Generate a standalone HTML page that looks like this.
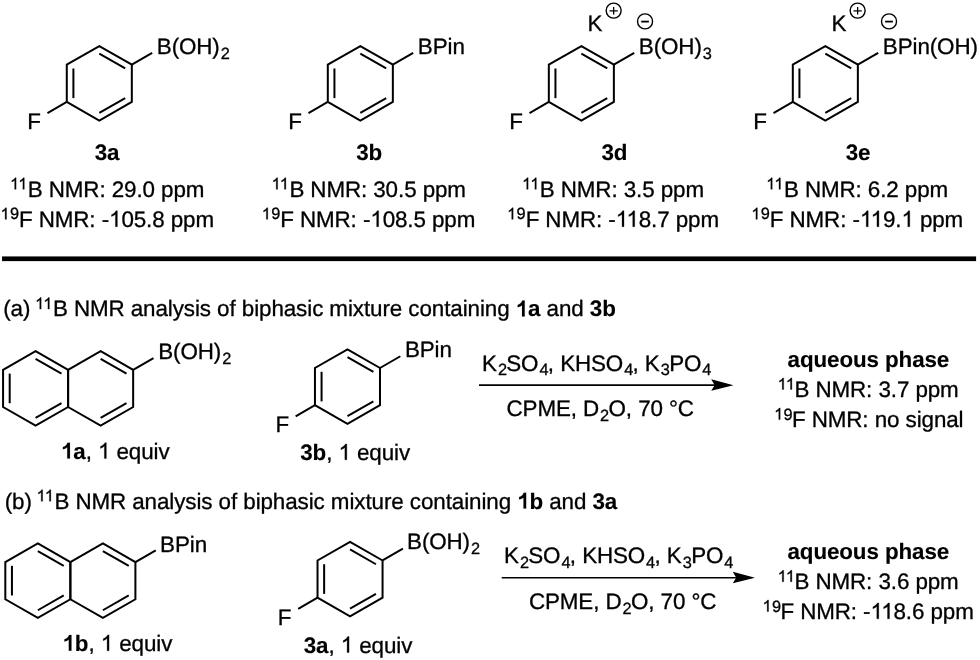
<!DOCTYPE html><html><head><meta charset="utf-8"><style>html,body{margin:0;padding:0;background:#fff;width:980px;height:660px;overflow:hidden}svg{display:block}</style></head><body><div style="will-change:transform"><svg width="980" height="660" viewBox="0 0 980 660">
<style>.b{fill:none;stroke:#000;stroke-width:2.0;stroke-linejoin:miter;stroke-linecap:butt}text{font-family:"Liberation Sans",sans-serif;text-rendering:geometricPrecision;font-kerning:none;white-space:pre;fill:#000;stroke:#000}.tr{stroke-width:0.3px}.tb{font-weight:bold;stroke-width:0.12px}tspan.one{fill-opacity:0;stroke-opacity:0}.gr,.gb{fill:#000;stroke:#000;vector-effect:non-scaling-stroke}.gr{stroke-width:0.3px}.gb{stroke-width:0.12px}</style>
<rect width="980" height="660" fill="#fff"/>
<path d="M99.30 46.10 L131.82 64.70 L131.82 101.90 L99.30 120.50 L66.78 101.90 L66.78 64.70 Z" class="b"/>
<path d="M99.30 53.72 L125.20 68.48" class="b"/>
<path d="M125.20 98.12 L99.30 112.88" class="b"/>
<path d="M73.40 98.12 L73.40 68.48" class="b"/>
<path d="M131.82 64.70 L152.17 52.95" class="b"/>
<text class="tr"><tspan x="156.80 171.64 178.99 196.26 212.33" y="53.86" style="font-size:22.400px">B(OH)</tspan><tspan x="220.74" y="58.76" style="font-size:16.346px">2</tspan></text>
<path d="M66.78 101.90 L47.47 113.05" class="b"/>
<text class="tr"><tspan x="27.20" y="129.10" style="font-size:22.400px">F</tspan></text>
<text class="tb"><tspan x="94.72 107.07" y="160.30" style="font-size:22.400px">3a</tspan></text>
<text class="tr"><tspan x="10.02 18.22" y="189.30" style="font-size:16.346px" class="one">11</tspan></text>
<path transform="matrix(0.00791 0 0 -0.00791 10.06 189.30)" d="M763 0L583 0L583 1147C540 1106 483 1064 413 1023C343 982 280 951 223 930L223 1104C321 1150 407 1206 481 1272C555 1338 607 1403 637 1466L763 1466Z" class="gr"/>
<path transform="matrix(0.00791 0 0 -0.00791 18.26 189.30)" d="M763 0L583 0L583 1147C540 1106 483 1064 413 1023C343 982 280 951 223 930L223 1104C321 1150 407 1206 481 1272C555 1338 607 1403 637 1466L763 1466Z" class="gr"/>
<text class="tr"><tspan x="27.84 42.69 48.81 64.83 83.33 99.41 105.58 111.72 124.07 136.44 142.58 154.95 161.09 173.44 185.76" y="196.60" style="font-size:22.400px">B NMR: 29.0 ppm</tspan></text>
<text class="tr"><tspan x="0.45" y="219.37" style="font-size:16.346px" class="one">1</tspan><tspan x="9.90" y="219.37" style="font-size:16.346px">9</tspan></text>
<path transform="matrix(0.00791 0 0 -0.00791 0.49 219.37)" d="M763 0L583 0L583 1147C540 1106 483 1064 413 1023C343 982 280 951 223 930L223 1104C321 1150 407 1206 481 1272C555 1338 607 1403 637 1466L763 1466Z" class="gr"/>
<text class="tr"><tspan x="19.03 32.62 38.75 54.77 73.27 89.35 95.52 101.68" y="226.67" style="font-size:22.400px">F NMR: -</tspan><tspan x="109.05" y="226.67" style="font-size:22.400px" class="one">1</tspan><tspan x="121.40 133.74 146.12 152.26 164.63 170.77 183.12 195.44" y="226.67" style="font-size:22.400px">05.8 ppm</tspan></text>
<path transform="matrix(0.01084 0 0 -0.01084 109.10 226.67)" d="M763 0L583 0L583 1147C540 1106 483 1064 413 1023C343 982 280 951 223 930L223 1104C321 1150 407 1206 481 1272C555 1338 607 1403 637 1466L763 1466Z" class="gr"/>
<path d="M360.33 46.10 L392.85 64.70 L392.85 101.90 L360.33 120.50 L327.81 101.90 L327.81 64.70 Z" class="b"/>
<path d="M360.33 53.72 L386.23 68.48" class="b"/>
<path d="M386.23 98.12 L360.33 112.88" class="b"/>
<path d="M334.43 98.12 L334.43 68.48" class="b"/>
<path d="M392.85 64.70 L413.20 52.95" class="b"/>
<text class="tr"><tspan x="417.83 432.64 447.49 452.39" y="53.86" style="font-size:22.400px">BPin</tspan></text>
<path d="M327.81 101.90 L308.50 113.05" class="b"/>
<text class="tr"><tspan x="288.23" y="129.10" style="font-size:22.400px">F</tspan></text>
<text class="tb"><tspan x="356.19 368.53" y="160.30" style="font-size:22.400px">3b</tspan></text>
<text class="tr"><tspan x="271.57 279.77" y="189.30" style="font-size:16.346px" class="one">11</tspan></text>
<path transform="matrix(0.00791 0 0 -0.00791 271.61 189.30)" d="M763 0L583 0L583 1147C540 1106 483 1064 413 1023C343 982 280 951 223 930L223 1104C321 1150 407 1206 481 1272C555 1338 607 1403 637 1466L763 1466Z" class="gr"/>
<path transform="matrix(0.00791 0 0 -0.00791 279.81 189.30)" d="M763 0L583 0L583 1147C540 1106 483 1064 413 1023C343 982 280 951 223 930L223 1104C321 1150 407 1206 481 1272C555 1338 607 1403 637 1466L763 1466Z" class="gr"/>
<text class="tr"><tspan x="289.39 304.24 310.36 326.38 344.88 360.96 367.13 373.27 385.62 397.99 404.13 416.50 422.64 434.99 447.31" y="196.60" style="font-size:22.400px">B NMR: 30.5 ppm</tspan></text>
<text class="tr"><tspan x="261.70" y="219.37" style="font-size:16.346px" class="one">1</tspan><tspan x="271.15" y="219.37" style="font-size:16.346px">9</tspan></text>
<path transform="matrix(0.00791 0 0 -0.00791 261.74 219.37)" d="M763 0L583 0L583 1147C540 1106 483 1064 413 1023C343 982 280 951 223 930L223 1104C321 1150 407 1206 481 1272C555 1338 607 1403 637 1466L763 1466Z" class="gr"/>
<text class="tr"><tspan x="280.28 293.87 300.00 316.02 334.52 350.60 356.77 362.93" y="226.67" style="font-size:22.400px">F NMR: -</tspan><tspan x="370.30" y="226.67" style="font-size:22.400px" class="one">1</tspan><tspan x="382.65 394.99 407.37 413.51 425.88 432.02 444.37 456.69" y="226.67" style="font-size:22.400px">08.5 ppm</tspan></text>
<path transform="matrix(0.01084 0 0 -0.01084 370.35 226.67)" d="M763 0L583 0L583 1147C540 1106 483 1064 413 1023C343 982 280 951 223 930L223 1104C321 1150 407 1206 481 1272C555 1338 607 1403 637 1466L763 1466Z" class="gr"/>
<path d="M581.35 46.10 L613.87 64.70 L613.87 101.90 L581.35 120.50 L548.83 101.90 L548.83 64.70 Z" class="b"/>
<path d="M581.35 53.72 L607.25 68.48" class="b"/>
<path d="M607.25 98.12 L581.35 112.88" class="b"/>
<path d="M555.45 98.12 L555.45 68.48" class="b"/>
<path d="M613.87 64.70 L634.22 52.95" class="b"/>
<text class="tr"><tspan x="638.85 653.69 661.04 678.31 694.38" y="53.86" style="font-size:22.400px">B(OH)</tspan><tspan x="702.79" y="58.76" style="font-size:16.346px">3</tspan></text>
<path d="M548.83 101.90 L529.52 113.05" class="b"/>
<text class="tr"><tspan x="509.25" y="129.10" style="font-size:22.400px">F</tspan></text>
<text class="tr"><tspan x="587.51" y="30.60" style="font-size:22.400px">K</tspan></text>
<circle cx="613.65" cy="10.60" r="7.5" fill="none" stroke="#000" stroke-width="1.4"/>
<path d="M609.55 10.80 h8.2 M613.65 7.10 v7.4" fill="none" stroke="#000" stroke-width="1.3"/>
<circle cx="645.05" cy="21.40" r="7.5" fill="none" stroke="#000" stroke-width="1.4"/>
<path d="M641.20 21.60 h7.7" fill="none" stroke="#000" stroke-width="1.8"/>
<text class="tb"><tspan x="601.47 613.81" y="160.30" style="font-size:22.400px">3d</tspan></text>
<text class="tr"><tspan x="522.05 530.24" y="189.30" style="font-size:16.346px" class="one">11</tspan></text>
<path transform="matrix(0.00791 0 0 -0.00791 522.09 189.30)" d="M763 0L583 0L583 1147C540 1106 483 1064 413 1023C343 982 280 951 223 930L223 1104C321 1150 407 1206 481 1272C555 1338 607 1403 637 1466L763 1466Z" class="gr"/>
<path transform="matrix(0.00791 0 0 -0.00791 530.28 189.30)" d="M763 0L583 0L583 1147C540 1106 483 1064 413 1023C343 982 280 951 223 930L223 1104C321 1150 407 1206 481 1272C555 1338 607 1403 637 1466L763 1466Z" class="gr"/>
<text class="tr"><tspan x="539.86 554.71 560.83 576.85 595.36 611.43 617.60 623.74 636.12 642.26 654.63 660.77 673.12 685.44" y="196.60" style="font-size:22.400px">B NMR: 3.5 ppm</tspan></text>
<text class="tr"><tspan x="507.07" y="219.37" style="font-size:16.346px" class="one">1</tspan><tspan x="516.53" y="219.37" style="font-size:16.346px">9</tspan></text>
<path transform="matrix(0.00791 0 0 -0.00791 507.11 219.37)" d="M763 0L583 0L583 1147C540 1106 483 1064 413 1023C343 982 280 951 223 930L223 1104C321 1150 407 1206 481 1272C555 1338 607 1403 637 1466L763 1466Z" class="gr"/>
<text class="tr"><tspan x="525.65 539.25 545.37 561.39 579.90 595.97 602.14 608.30" y="226.67" style="font-size:22.400px">F NMR: -</tspan><tspan x="615.67 626.37" y="226.67" style="font-size:22.400px" class="one">11</tspan><tspan x="638.72 651.09 657.23 669.61 675.75 688.09 700.41" y="226.67" style="font-size:22.400px">8.7 ppm</tspan></text>
<path transform="matrix(0.01084 0 0 -0.01084 615.73 226.67)" d="M763 0L583 0L583 1147C540 1106 483 1064 413 1023C343 982 280 951 223 930L223 1104C321 1150 407 1206 481 1272C555 1338 607 1403 637 1466L763 1466Z" class="gr"/>
<path transform="matrix(0.01084 0 0 -0.01084 626.43 226.67)" d="M763 0L583 0L583 1147C540 1106 483 1064 413 1023C343 982 280 951 223 930L223 1104C321 1150 407 1206 481 1272C555 1338 607 1403 637 1466L763 1466Z" class="gr"/>
<path d="M825.33 46.10 L857.85 64.70 L857.85 101.90 L825.33 120.50 L792.81 101.90 L792.81 64.70 Z" class="b"/>
<path d="M825.33 53.72 L851.23 68.48" class="b"/>
<path d="M851.23 98.12 L825.33 112.88" class="b"/>
<path d="M799.43 98.12 L799.43 68.48" class="b"/>
<path d="M857.85 64.70 L878.20 52.95" class="b"/>
<text class="tr"><tspan x="882.83 897.64 912.49 917.39 929.76 937.11 954.38 970.45" y="53.86" style="font-size:22.400px">BPin(OH)</tspan></text>
<path d="M792.81 101.90 L773.50 113.05" class="b"/>
<text class="tr"><tspan x="753.23" y="129.10" style="font-size:22.400px">F</tspan></text>
<text class="tr"><tspan x="831.49" y="30.60" style="font-size:22.400px">K</tspan></text>
<circle cx="857.63" cy="10.60" r="7.5" fill="none" stroke="#000" stroke-width="1.4"/>
<path d="M853.53 10.80 h8.2 M857.63 7.10 v7.4" fill="none" stroke="#000" stroke-width="1.3"/>
<circle cx="889.03" cy="21.40" r="7.5" fill="none" stroke="#000" stroke-width="1.4"/>
<path d="M885.18 21.60 h7.7" fill="none" stroke="#000" stroke-width="1.8"/>
<text class="tb"><tspan x="845.72 858.07" y="160.30" style="font-size:22.400px">3e</tspan></text>
<text class="tr"><tspan x="766.15 774.34" y="189.30" style="font-size:16.346px" class="one">11</tspan></text>
<path transform="matrix(0.00791 0 0 -0.00791 766.19 189.30)" d="M763 0L583 0L583 1147C540 1106 483 1064 413 1023C343 982 280 951 223 930L223 1104C321 1150 407 1206 481 1272C555 1338 607 1403 637 1466L763 1466Z" class="gr"/>
<path transform="matrix(0.00791 0 0 -0.00791 774.38 189.30)" d="M763 0L583 0L583 1147C540 1106 483 1064 413 1023C343 982 280 951 223 930L223 1104C321 1150 407 1206 481 1272C555 1338 607 1403 637 1466L763 1466Z" class="gr"/>
<text class="tr"><tspan x="783.96 798.81 804.93 820.95 839.46 855.53 861.70 867.84 880.22 886.36 898.73 904.87 917.22 929.54" y="196.60" style="font-size:22.400px">B NMR: 6.2 ppm</tspan></text>
<text class="tr"><tspan x="751.27" y="219.37" style="font-size:16.346px" class="one">1</tspan><tspan x="760.73" y="219.37" style="font-size:16.346px">9</tspan></text>
<path transform="matrix(0.00791 0 0 -0.00791 751.31 219.37)" d="M763 0L583 0L583 1147C540 1106 483 1064 413 1023C343 982 280 951 223 930L223 1104C321 1150 407 1206 481 1272C555 1338 607 1403 637 1466L763 1466Z" class="gr"/>
<text class="tr"><tspan x="769.85 783.45 789.57 805.59 824.10 840.17 846.34 852.50" y="226.67" style="font-size:22.400px">F NMR: -</tspan><tspan x="859.87 870.57" y="226.67" style="font-size:22.400px" class="one">11</tspan><tspan x="882.92 895.29" y="226.67" style="font-size:22.400px">9.</tspan><tspan x="901.43" y="226.67" style="font-size:22.400px" class="one">1</tspan><tspan x="913.81 919.95 932.29 944.61" y="226.67" style="font-size:22.400px"> ppm</tspan></text>
<path transform="matrix(0.01084 0 0 -0.01084 859.93 226.67)" d="M763 0L583 0L583 1147C540 1106 483 1064 413 1023C343 982 280 951 223 930L223 1104C321 1150 407 1206 481 1272C555 1338 607 1403 637 1466L763 1466Z" class="gr"/>
<path transform="matrix(0.01084 0 0 -0.01084 870.63 226.67)" d="M763 0L583 0L583 1147C540 1106 483 1064 413 1023C343 982 280 951 223 930L223 1104C321 1150 407 1206 481 1272C555 1338 607 1403 637 1466L763 1466Z" class="gr"/>
<path transform="matrix(0.01084 0 0 -0.01084 901.49 226.67)" d="M763 0L583 0L583 1147C540 1106 483 1064 413 1023C343 982 280 951 223 930L223 1104C321 1150 407 1206 481 1272C555 1338 607 1403 637 1466L763 1466Z" class="gr"/>
<rect x="2.04" y="256.43" width="974.06" height="4.69" fill="#000"/>
<text class="tr"><tspan x="3.24 10.61 22.98" y="316.40" style="font-size:22.400px">(a)</tspan></text>
<text class="tr"><tspan x="35.09 43.28" y="309.10" style="font-size:16.346px" class="one">11</tspan></text>
<path transform="matrix(0.00791 0 0 -0.00791 35.13 309.10)" d="M763 0L583 0L583 1147C540 1106 483 1064 413 1023C343 982 280 951 223 930L223 1104C321 1150 407 1206 481 1272C555 1338 607 1403 637 1466L763 1466Z" class="gr"/>
<path transform="matrix(0.00791 0 0 -0.00791 43.32 309.10)" d="M763 0L583 0L583 1147C540 1106 483 1064 413 1023C343 982 280 951 223 930L223 1104C321 1150 407 1206 481 1272C555 1338 607 1403 637 1466L763 1466Z" class="gr"/>
<text class="tr"><tspan x="53.01 67.86 73.98 90.00 108.51 124.58 130.72 143.07 155.42 167.80 172.70 183.80 194.93 199.83 210.96 217.10 229.47 235.64 241.78 254.16 259.06 271.40 283.75 296.10 307.23 312.13 323.26 329.37 347.92 352.83 363.95 370.09 382.46 389.83 402.20 408.35 419.44 431.79 444.16 450.30 462.68 467.58 479.96 484.86 497.21 509.58" y="316.40" style="font-size:22.400px">B NMR analysis of biphasic mixture containing </tspan><tspan x="515.72" y="316.40" style="font-size:22.400px;font-weight:bold;stroke-width:0.12px" class="one">1</tspan><tspan x="528.07" y="316.40" style="font-size:22.400px;font-weight:bold;stroke-width:0.12px">a</tspan><tspan x="540.44 546.58 558.93 571.28 583.65" y="316.40" style="font-size:22.400px"> and </tspan><tspan x="589.79 602.13" y="316.40" style="font-size:22.400px;font-weight:bold;stroke-width:0.12px">3b</tspan></text>
<path transform="matrix(0.01084 0 0 -0.01084 515.78 316.40)" d="M823 0L575 0L575 1030C480 945 340 880 171 846L171 1060C265 1090 355 1140 440 1210C520 1280 572 1370 597 1466L823 1466Z" class="gb"/>
<text class="tr"><tspan x="4.71 12.08 24.45" y="508.55" style="font-size:22.400px">(b)</tspan></text>
<text class="tr"><tspan x="36.56 44.75" y="501.25" style="font-size:16.346px" class="one">11</tspan></text>
<path transform="matrix(0.00791 0 0 -0.00791 36.60 501.25)" d="M763 0L583 0L583 1147C540 1106 483 1064 413 1023C343 982 280 951 223 930L223 1104C321 1150 407 1206 481 1272C555 1338 607 1403 637 1466L763 1466Z" class="gr"/>
<path transform="matrix(0.00791 0 0 -0.00791 44.79 501.25)" d="M763 0L583 0L583 1147C540 1106 483 1064 413 1023C343 982 280 951 223 930L223 1104C321 1150 407 1206 481 1272C555 1338 607 1403 637 1466L763 1466Z" class="gr"/>
<text class="tr"><tspan x="54.48 69.33 75.45 91.47 109.98 126.05 132.19 144.54 156.89 169.27 174.17 185.27 196.40 201.30 212.43 218.57 230.94 237.11 243.25 255.63 260.53 272.87 285.22 297.57 308.70 313.60 324.73 330.84 349.39 354.30 365.42 371.56 383.93 391.30 403.67 409.82 420.91 433.26 445.63 451.77 464.15 469.05 481.43 486.33 498.68 511.05" y="508.55" style="font-size:22.400px">B NMR analysis of biphasic mixture containing </tspan><tspan x="517.19" y="508.55" style="font-size:22.400px;font-weight:bold;stroke-width:0.12px" class="one">1</tspan><tspan x="529.53" y="508.55" style="font-size:22.400px;font-weight:bold;stroke-width:0.12px">b</tspan><tspan x="543.13 549.27 561.61 573.96 586.33" y="508.55" style="font-size:22.400px"> and </tspan><tspan x="592.47 604.82" y="508.55" style="font-size:22.400px;font-weight:bold;stroke-width:0.12px">3a</tspan></text>
<path transform="matrix(0.01084 0 0 -0.01084 517.25 508.55)" d="M823 0L575 0L575 1030C480 945 340 880 171 846L171 1060C265 1090 355 1140 440 1210C520 1280 572 1370 597 1466L823 1466Z" class="gb"/>
<path d="M35.59 351.20 L68.11 369.80 L68.11 407.00 L35.59 425.60 L3.07 407.00 L3.07 369.80 Z" class="b"/>
<path d="M35.59 358.82 L61.49 373.58" class="b"/>
<path d="M61.49 403.22 L35.59 417.98" class="b"/>
<path d="M9.69 403.22 L9.69 373.58" class="b"/>
<path d="M100.63 351.20 L133.15 369.80 L133.15 407.00 L100.63 425.60 L68.11 407.00 L68.11 369.80 Z" class="b"/>
<path d="M100.63 358.82 L126.53 373.58" class="b"/>
<path d="M126.53 403.22 L100.63 417.98" class="b"/>
<path d="M133.15 369.80 L153.50 358.05" class="b"/>
<text class="tr"><tspan x="158.19 173.03 180.38 197.65 213.73" y="358.80" style="font-size:22.400px">B(OH)</tspan><tspan x="222.13" y="363.70" style="font-size:16.346px">2</tspan></text>
<text class="tb"><tspan x="60.96" y="458.52" style="font-size:22.400px" class="one">1</tspan><tspan x="73.31" y="458.52" style="font-size:22.400px">a</tspan><tspan x="85.68 91.85" y="458.52" style="font-size:22.400px;font-weight:normal;stroke-width:0.3px">, </tspan><tspan x="97.99" y="458.52" style="font-size:22.400px;font-weight:normal;stroke-width:0.3px" class="one">1</tspan><tspan x="110.36 116.50 128.85 141.20 153.58 158.48" y="458.52" style="font-size:22.400px;font-weight:normal;stroke-width:0.3px"> equiv</tspan></text>
<path transform="matrix(0.01084 0 0 -0.01084 61.02 458.52)" d="M823 0L575 0L575 1030C480 945 340 880 171 846L171 1060C265 1090 355 1140 440 1210C520 1280 572 1370 597 1466L823 1466Z" class="gb"/>
<path transform="matrix(0.01084 0 0 -0.01084 98.05 458.52)" d="M763 0L583 0L583 1147C540 1106 483 1064 413 1023C343 982 280 951 223 930L223 1104C321 1150 407 1206 481 1272C555 1338 607 1403 637 1466L763 1466Z" class="gr"/>
<path d="M347.47 349.40 L379.99 368.00 L379.99 405.20 L347.47 423.80 L314.95 405.20 L314.95 368.00 Z" class="b"/>
<path d="M347.47 357.02 L373.37 371.78" class="b"/>
<path d="M373.37 401.42 L347.47 416.18" class="b"/>
<path d="M321.57 401.42 L321.57 371.78" class="b"/>
<path d="M379.99 368.00 L400.34 356.25" class="b"/>
<text class="tr"><tspan x="404.91 419.72 434.57 439.47" y="356.80" style="font-size:22.400px">BPin</tspan></text>
<path d="M314.95 405.20 L295.64 416.35" class="b"/>
<text class="tr"><tspan x="275.62" y="432.38" style="font-size:22.400px">F</tspan></text>
<text class="tb"><tspan x="300.25 312.59" y="459.85" style="font-size:22.400px">3b</tspan><tspan x="326.19 332.35" y="459.85" style="font-size:22.400px;font-weight:normal;stroke-width:0.3px">, </tspan><tspan x="338.49" y="459.85" style="font-size:22.400px;font-weight:normal;stroke-width:0.3px" class="one">1</tspan><tspan x="350.87 357.01 369.36 381.70 394.08 398.99" y="459.85" style="font-size:22.400px;font-weight:normal;stroke-width:0.3px"> equiv</tspan></text>
<path transform="matrix(0.01084 0 0 -0.01084 338.55 459.85)" d="M763 0L583 0L583 1147C540 1106 483 1064 413 1023C343 982 280 951 223 930L223 1104C321 1150 407 1206 481 1272C555 1338 607 1403 637 1466L763 1466Z" class="gr"/>
<path d="M37.84 543.47 L70.36 562.07 L70.36 599.27 L37.84 617.87 L5.32 599.27 L5.32 562.07 Z" class="b"/>
<path d="M37.84 551.09 L63.74 565.85" class="b"/>
<path d="M63.74 595.49 L37.84 610.25" class="b"/>
<path d="M11.94 595.49 L11.94 565.85" class="b"/>
<path d="M102.88 543.47 L135.40 562.07 L135.40 599.27 L102.88 617.87 L70.36 599.27 L70.36 562.07 Z" class="b"/>
<path d="M102.88 551.09 L128.78 565.85" class="b"/>
<path d="M128.78 595.49 L102.88 610.25" class="b"/>
<path d="M135.40 562.07 L155.75 550.32" class="b"/>
<text class="tr"><tspan x="160.07 174.88 189.73 194.63" y="551.60" style="font-size:22.400px">BPin</tspan></text>
<text class="tb"><tspan x="62.49" y="650.78" style="font-size:22.400px" class="one">1</tspan><tspan x="74.83" y="650.78" style="font-size:22.400px">b</tspan><tspan x="88.43 94.59" y="650.78" style="font-size:22.400px;font-weight:normal;stroke-width:0.3px">, </tspan><tspan x="100.73" y="650.78" style="font-size:22.400px;font-weight:normal;stroke-width:0.3px" class="one">1</tspan><tspan x="113.11 119.25 131.60 143.94 156.32 161.23" y="650.78" style="font-size:22.400px;font-weight:normal;stroke-width:0.3px"> equiv</tspan></text>
<path transform="matrix(0.01084 0 0 -0.01084 62.55 650.78)" d="M823 0L575 0L575 1030C480 945 340 880 171 846L171 1060C265 1090 355 1140 440 1210C520 1280 572 1370 597 1466L823 1466Z" class="gb"/>
<path transform="matrix(0.01084 0 0 -0.01084 100.79 650.78)" d="M763 0L583 0L583 1147C540 1106 483 1064 413 1023C343 982 280 951 223 930L223 1104C321 1150 407 1206 481 1272C555 1338 607 1403 637 1466L763 1466Z" class="gr"/>
<path d="M350.04 541.87 L382.56 560.47 L382.56 597.67 L350.04 616.27 L317.52 597.67 L317.52 560.47 Z" class="b"/>
<path d="M350.04 549.49 L375.94 564.25" class="b"/>
<path d="M375.94 593.89 L350.04 608.65" class="b"/>
<path d="M324.14 593.89 L324.14 564.25" class="b"/>
<path d="M382.56 560.47 L402.91 548.72" class="b"/>
<text class="tr"><tspan x="407.07 421.91 429.26 446.53 462.61" y="548.80" style="font-size:22.400px">B(OH)</tspan><tspan x="471.01" y="553.70" style="font-size:16.346px">2</tspan></text>
<path d="M317.52 597.67 L298.21 608.82" class="b"/>
<text class="tr"><tspan x="277.67" y="624.70" style="font-size:22.400px">F</tspan></text>
<text class="tb"><tspan x="303.71 316.05" y="652.50" style="font-size:22.400px">3a</tspan><tspan x="328.43 334.59" y="652.50" style="font-size:22.400px;font-weight:normal;stroke-width:0.3px">, </tspan><tspan x="340.73" y="652.50" style="font-size:22.400px;font-weight:normal;stroke-width:0.3px" class="one">1</tspan><tspan x="353.11 359.25 371.60 383.94 396.32 401.23" y="652.50" style="font-size:22.400px;font-weight:normal;stroke-width:0.3px"> equiv</tspan></text>
<path transform="matrix(0.01084 0 0 -0.01084 340.79 652.50)" d="M763 0L583 0L583 1147C540 1106 483 1064 413 1023C343 982 280 951 223 930L223 1104C321 1150 407 1206 481 1272C555 1338 607 1403 637 1466L763 1466Z" class="gr"/>
<path d="M479.02 385.14 L715.69 385.14" class="b" style="stroke-width:1.6"/>
<path d="M733.47 385.14 L711.22 379.14 L714.69 385.14 L711.22 390.78 Z" fill="#000"/>
<text class="tr"><tspan x="482.04" y="370.50" style="font-size:22.400px">K</tspan><tspan x="497.90" y="375.40" style="font-size:16.346px">2</tspan><tspan x="506.30 521.10" y="370.50" style="font-size:22.400px">SO</tspan><tspan x="539.43" y="375.40" style="font-size:16.346px">4</tspan><tspan x="547.87 554.04 560.17 574.97 591.01 605.81" y="370.50" style="font-size:22.400px">, KHSO</tspan><tspan x="624.13" y="375.40" style="font-size:16.346px">4</tspan><tspan x="632.58 638.75 644.87" y="370.50" style="font-size:22.400px">, K</tspan><tspan x="660.73" y="375.40" style="font-size:16.346px">3</tspan><tspan x="669.14 683.93" y="370.50" style="font-size:22.400px">PO</tspan><tspan x="702.26" y="375.40" style="font-size:16.346px">4</tspan></text>
<text class="tr"><tspan x="506.56 522.60 537.39 555.90 570.74 576.91 583.04" y="416.20" style="font-size:22.400px">CPME, D</tspan><tspan x="600.12" y="421.10" style="font-size:16.346px">2</tspan><tspan x="608.52 625.83 632.00 638.14 650.49 662.86 669.02 677.86" y="416.20" style="font-size:22.400px">O, 70 °C</tspan></text>
<path d="M501.67 577.70 L737.22 577.70" class="b" style="stroke-width:1.6"/>
<path d="M755.00 577.70 L732.75 571.70 L736.22 577.70 L732.75 583.34 Z" fill="#000"/>
<text class="tr"><tspan x="504.03" y="563.20" style="font-size:22.400px">K</tspan><tspan x="519.89" y="568.10" style="font-size:16.346px">2</tspan><tspan x="528.29 543.09" y="563.20" style="font-size:22.400px">SO</tspan><tspan x="561.42" y="568.10" style="font-size:16.346px">4</tspan><tspan x="569.86 576.03 582.16 596.96 613.00 627.80" y="563.20" style="font-size:22.400px">, KHSO</tspan><tspan x="646.12" y="568.10" style="font-size:16.346px">4</tspan><tspan x="654.57 660.74 666.86" y="563.20" style="font-size:22.400px">, K</tspan><tspan x="682.72" y="568.10" style="font-size:16.346px">3</tspan><tspan x="691.13 705.92" y="563.20" style="font-size:22.400px">PO</tspan><tspan x="724.25" y="568.10" style="font-size:16.346px">4</tspan></text>
<text class="tr"><tspan x="529.00 545.04 559.83 578.34 593.18 599.35 605.48" y="609.40" style="font-size:22.400px">CPME, D</tspan><tspan x="622.56" y="614.30" style="font-size:16.346px">2</tspan><tspan x="630.96 648.27 654.44 660.58 672.93 685.30 691.46 700.30" y="609.40" style="font-size:22.400px">O, 70 °C</tspan></text>
<text class="tb"><tspan x="787.59 799.93 813.49 827.06 839.40 852.96 866.53 878.90 885.04 898.60 912.16 924.51 936.86" y="366.80" style="font-size:22.400px">aqueous phase</tspan></text>
<text class="tr"><tspan x="777.60 785.79" y="389.50" style="font-size:16.346px" class="one">11</tspan></text>
<path transform="matrix(0.00791 0 0 -0.00791 777.64 389.50)" d="M763 0L583 0L583 1147C540 1106 483 1064 413 1023C343 982 280 951 223 930L223 1104C321 1150 407 1206 481 1272C555 1338 607 1403 637 1466L763 1466Z" class="gr"/>
<path transform="matrix(0.00791 0 0 -0.00791 785.83 389.50)" d="M763 0L583 0L583 1147C540 1106 483 1064 413 1023C343 982 280 951 223 930L223 1104C321 1150 407 1206 481 1272C555 1338 607 1403 637 1466L763 1466Z" class="gr"/>
<text class="tr"><tspan x="794.51 809.36 815.48 831.50 850.01 866.08 872.25 878.39 890.77 896.91 909.28 915.42 927.77 940.09" y="396.80" style="font-size:22.400px">B NMR: 3.7 ppm</tspan></text>
<text class="tr"><tspan x="774.11" y="419.55" style="font-size:16.346px" class="one">1</tspan><tspan x="783.56" y="419.55" style="font-size:16.346px">9</tspan></text>
<path transform="matrix(0.00791 0 0 -0.00791 774.15 419.55)" d="M763 0L583 0L583 1147C540 1106 483 1064 413 1023C343 982 280 951 223 930L223 1104C321 1150 407 1206 481 1272C555 1338 607 1403 637 1466L763 1466Z" class="gr"/>
<text class="tr"><tspan x="792.03 805.62 811.75 827.77 846.27 862.35 868.51 874.65 887.00 899.38 905.52 916.65 921.55 933.89 946.24 958.62" y="426.85" style="font-size:22.400px">F NMR: no signal</tspan></text>
<text class="tb"><tspan x="787.49 799.83 813.39 826.96 839.30 852.86 866.43 878.80 884.94 898.50 912.06 924.41 936.76" y="558.80" style="font-size:22.400px">aqueous phase</tspan></text>
<text class="tr"><tspan x="777.60 785.79" y="581.80" style="font-size:16.346px" class="one">11</tspan></text>
<path transform="matrix(0.00791 0 0 -0.00791 777.64 581.80)" d="M763 0L583 0L583 1147C540 1106 483 1064 413 1023C343 982 280 951 223 930L223 1104C321 1150 407 1206 481 1272C555 1338 607 1403 637 1466L763 1466Z" class="gr"/>
<path transform="matrix(0.00791 0 0 -0.00791 785.83 581.80)" d="M763 0L583 0L583 1147C540 1106 483 1064 413 1023C343 982 280 951 223 930L223 1104C321 1150 407 1206 481 1272C555 1338 607 1403 637 1466L763 1466Z" class="gr"/>
<text class="tr"><tspan x="794.51 809.36 815.48 831.50 850.01 866.08 872.25 878.39 890.77 896.91 909.28 915.42 927.77 940.09" y="589.10" style="font-size:22.400px">B NMR: 3.6 ppm</tspan></text>
<text class="tr"><tspan x="762.50" y="611.55" style="font-size:16.346px" class="one">1</tspan><tspan x="771.96" y="611.55" style="font-size:16.346px">9</tspan></text>
<path transform="matrix(0.00791 0 0 -0.00791 762.54 611.55)" d="M763 0L583 0L583 1147C540 1106 483 1064 413 1023C343 982 280 951 223 930L223 1104C321 1150 407 1206 481 1272C555 1338 607 1403 637 1466L763 1466Z" class="gr"/>
<text class="tr"><tspan x="780.42 794.02 800.14 816.16 834.67 850.74 856.91 863.07" y="618.85" style="font-size:22.400px">F NMR: -</tspan><tspan x="870.44 881.14" y="618.85" style="font-size:22.400px" class="one">11</tspan><tspan x="893.49 905.86 912.00 924.38 930.52 942.86 955.18" y="618.85" style="font-size:22.400px">8.6 ppm</tspan></text>
<path transform="matrix(0.01084 0 0 -0.01084 870.50 618.85)" d="M763 0L583 0L583 1147C540 1106 483 1064 413 1023C343 982 280 951 223 930L223 1104C321 1150 407 1206 481 1272C555 1338 607 1403 637 1466L763 1466Z" class="gr"/>
<path transform="matrix(0.01084 0 0 -0.01084 881.20 618.85)" d="M763 0L583 0L583 1147C540 1106 483 1064 413 1023C343 982 280 951 223 930L223 1104C321 1150 407 1206 481 1272C555 1338 607 1403 637 1466L763 1466Z" class="gr"/>
</svg></div></body></html>
